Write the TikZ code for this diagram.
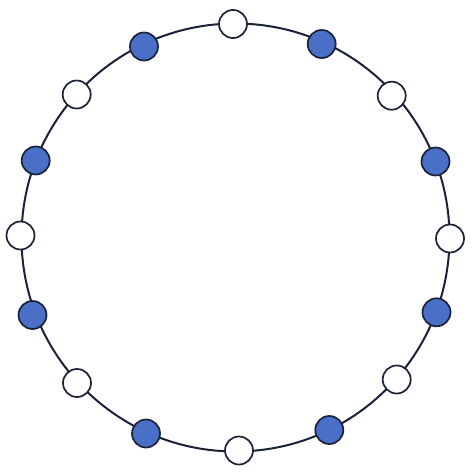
\documentclass[tikz,border=0pt]{standalone}
\definecolor{ringcol}{HTML}{1A2238}
\definecolor{bluefill}{HTML}{4A6FC6}
\begin{document}
\begin{tikzpicture}[x=1pt,y=-1pt,
  ring/.style={draw=ringcol,line width=2pt},
  wnode/.style={circle,draw=ringcol,line width=1.7pt,fill=white,minimum size=28pt,inner sep=0pt},
  bnode/.style={circle,draw=ringcol,line width=1.7pt,fill=bluefill,minimum size=28pt,inner sep=0pt}]
\useasboundingbox (0,0) rectangle (474,474);
\coordinate (c) at (235.5,237.5);
\draw[ring] (c) circle [radius=214];
\node[wnode] (n0) at (233,24) {};
\node[bnode] (n1) at (144,46.5) {};
\node[wnode] (n2) at (76.7,94.5) {};
\node[bnode] (n3) at (35.7,160.5) {};
\node[wnode] (n4) at (20.5,235.5) {};
\node[bnode] (n5) at (32.5,315) {};
\node[wnode] (n6) at (77,383) {};
\node[bnode] (n7) at (146,433.5) {};
\node[wnode] (n8) at (239,450.5) {};
\node[bnode] (n9) at (329.3,430) {};
\node[wnode] (n10) at (396.7,379.5) {};
\node[bnode] (n11) at (436.5,312.3) {};
\node[wnode] (n12) at (450,238.5) {};
\node[bnode] (n13) at (435.5,161.5) {};
\node[wnode] (n14) at (391.7,95.7) {};
\node[bnode] (n15) at (321.7,44) {};
\end{tikzpicture}
\end{document}
